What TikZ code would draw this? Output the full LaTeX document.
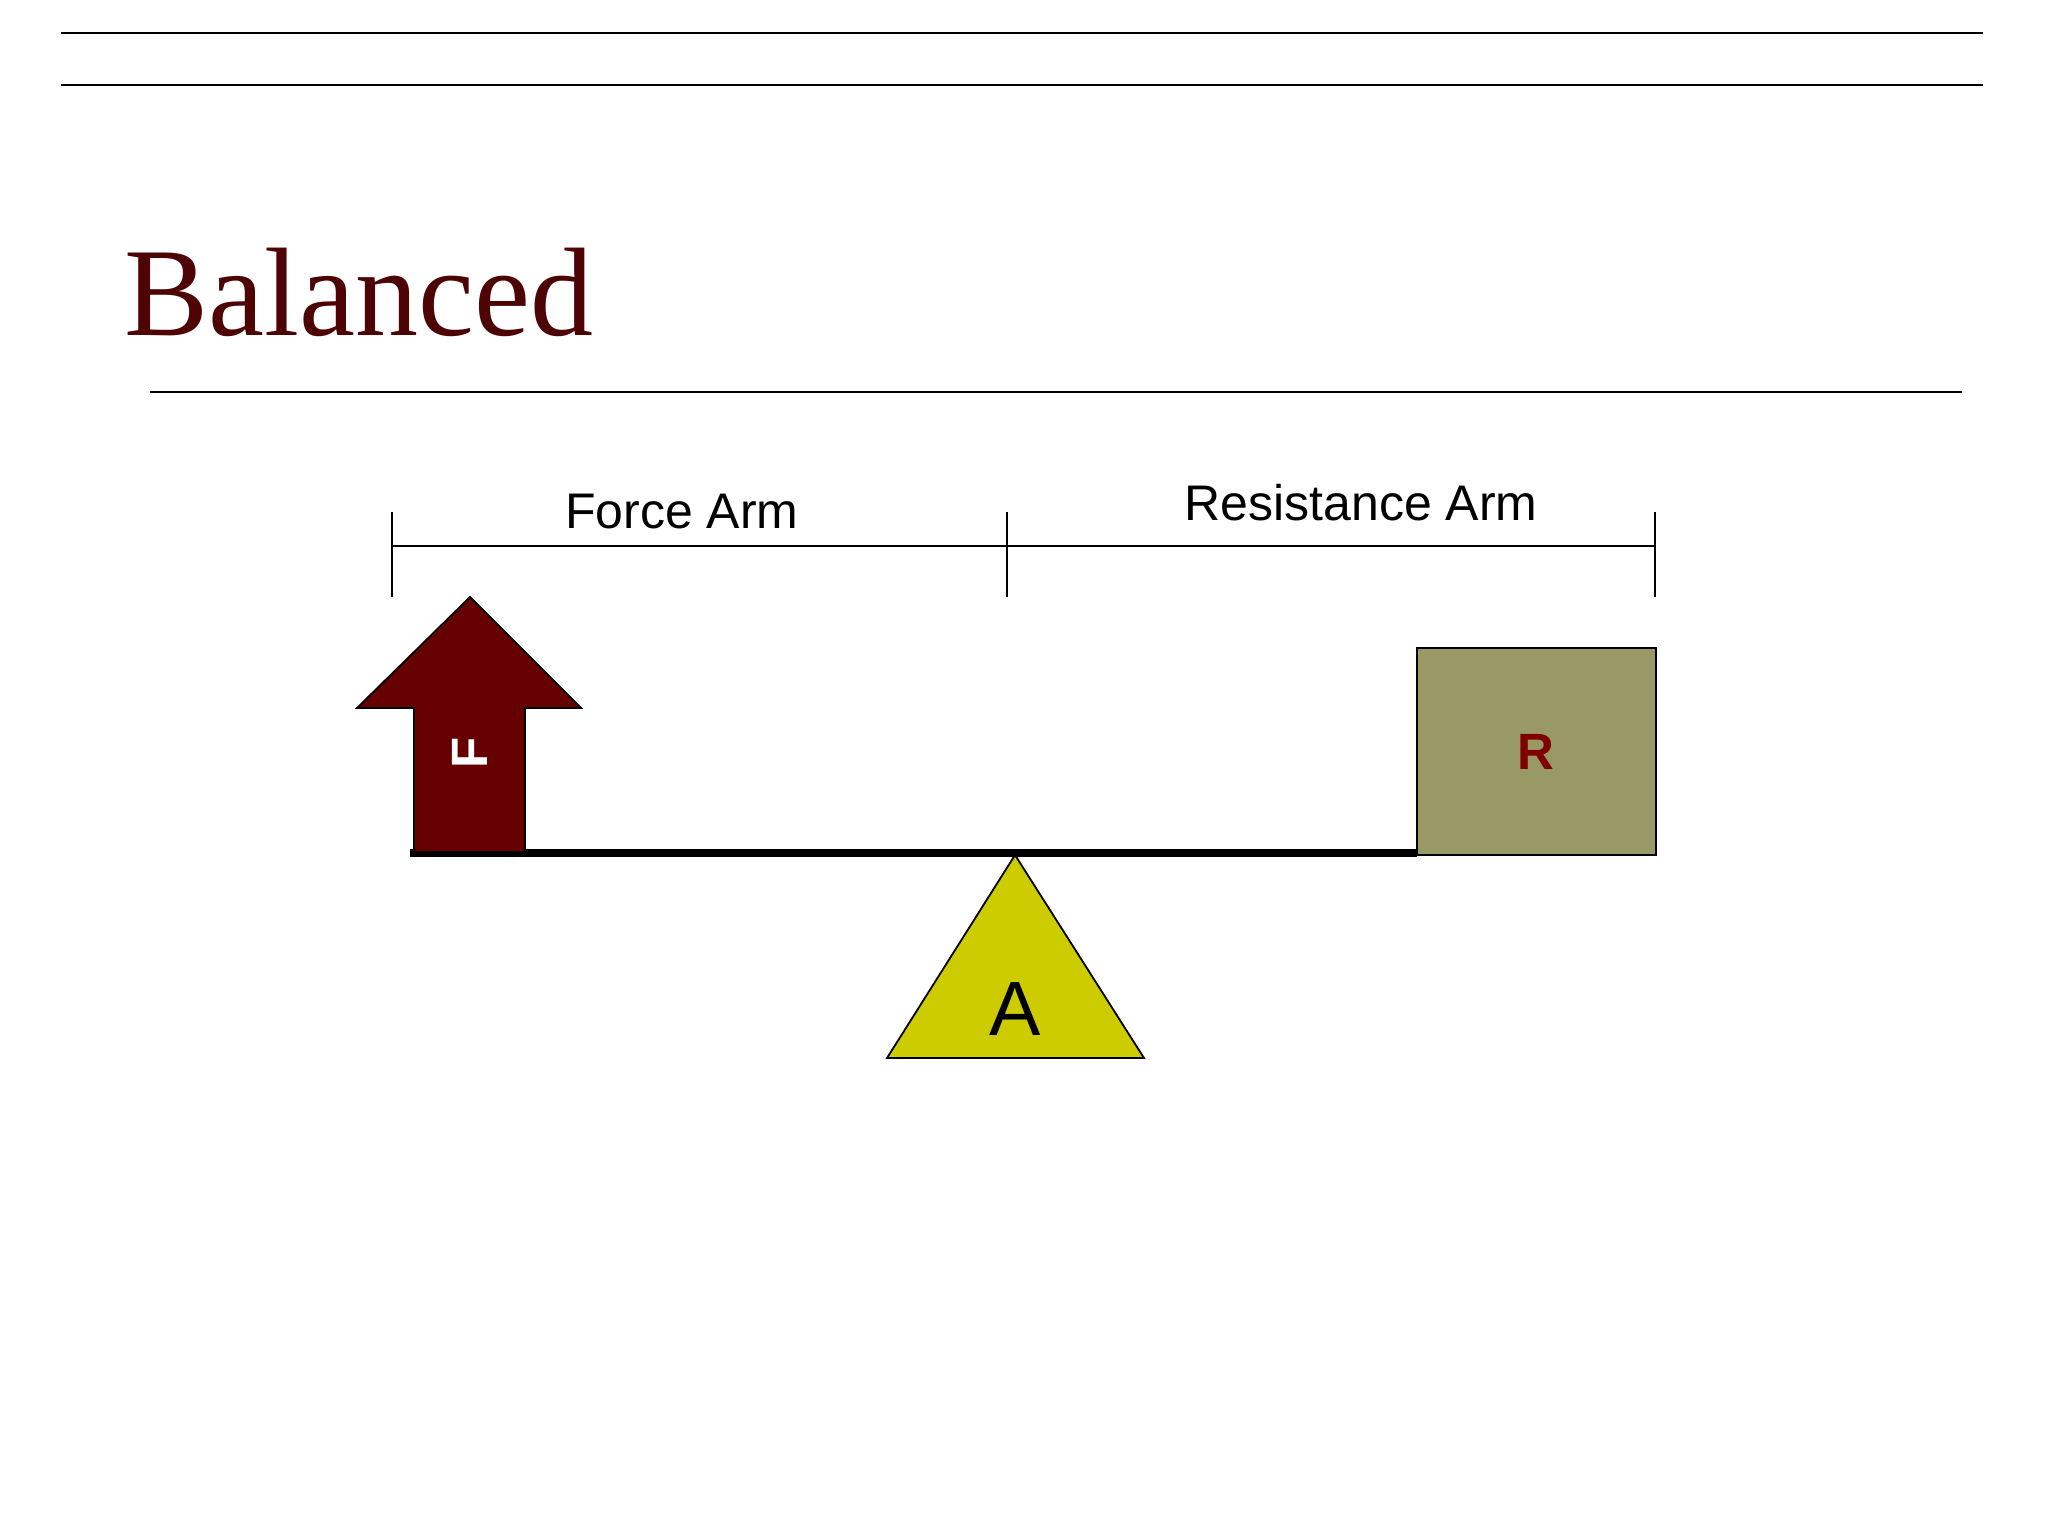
\documentclass[tikz,border=0pt]{standalone}
\usepackage{fontspec}
\setmainfont{Liberation Serif}
\newfontfamily\arialfont{Liberation Sans}
\definecolor{titlered}{RGB}{78,4,4}
\definecolor{arrowred}{RGB}{102,0,0}
\definecolor{rred}{RGB}{128,0,0}
\definecolor{boxolive}{RGB}{153,153,102}
\definecolor{fulcrum}{RGB}{204,204,0}
\tikzset{
  rule/.style={line width=1.3pt, draw=black},
  dimline/.style={line width=0.9pt, draw=black},
  armlabel/.style={font=\arialfont\fontsize{25}{30}\selectfont, inner sep=0pt},
  shapeline/.style={line width=0.9pt, draw=black},
}
\begin{document}
\begin{tikzpicture}[x=0.5pt,y=-0.5pt]
\useasboundingbox (0,0) rectangle (2048,1536);
% top rules
\draw[rule] (61,33) -- (1983,33);
\draw[rule] (61,85) -- (1983,85);
% title
\node[anchor=base west, inner sep=0pt, text=titlered, font=\fontsize{63}{70}\selectfont] (title) at (124,335) {Balanced};
\draw[rule] (150,392) -- (1962,392);
% dimension lines
\coordinate (t1a) at (392,512); \coordinate (t1b) at (392,597);
\coordinate (t2a) at (1007,512); \coordinate (t2b) at (1007,597);
\coordinate (t3a) at (1655,512); \coordinate (t3b) at (1655,597);
\draw[dimline] (t1a) -- (t1b);
\draw[dimline] (t2a) -- (t2b);
\draw[dimline] (t3a) -- (t3b);
\draw[dimline] (392,546) -- (1655,546);
\node[armlabel, anchor=base] (forcearm) at (682,528) {Force Arm};
\node[armlabel, anchor=base] (resarm) at (1361,520) {Resistance Arm};
% beam
\draw[line width=4pt] (410,853) -- (1417,853);
% arrow F
\draw[shapeline, fill=arrowred] (470,597) -- (581,708) -- (525,708) -- (525,852) -- (414,852) -- (414,708) -- (357,708) -- cycle;
\node[rotate=90, text=white, font=\arialfont\bfseries\fontsize{25.5}{30}\selectfont, inner sep=0pt] (F) at (470,753) {F};
% resistance box
\node[draw=black, line width=1pt, fill=boxolive, minimum width=119.5pt, minimum height=103.5pt, inner sep=0pt, text=rred, font=\arialfont\bfseries\fontsize{25.5}{30}\selectfont] (R) at (1536,751.5) {R};
% fulcrum
\draw[shapeline, fill=fulcrum] (1015,855) -- (1144,1058) -- (887,1058) -- cycle;
\node[anchor=base, inner sep=0pt, font=\arialfont\fontsize{38.5}{44}\selectfont] (A) at (1015,1035) {A};
\end{tikzpicture}
\end{document}
